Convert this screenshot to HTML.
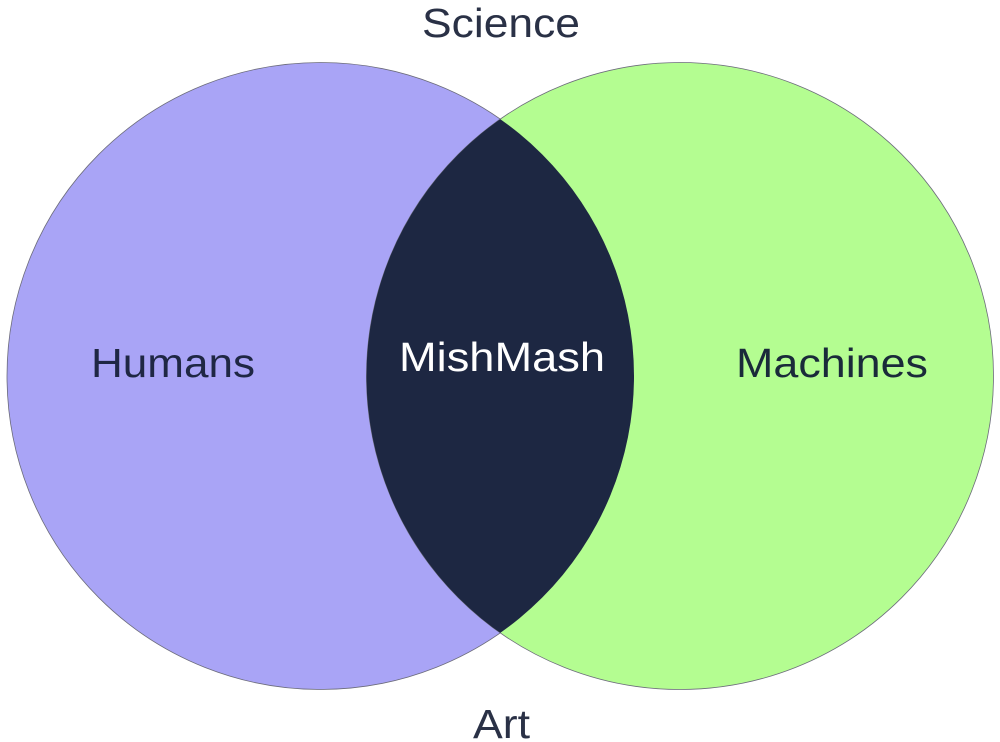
<!DOCTYPE html>
<html>
<head>
<meta charset="utf-8">
<style>
  html, body { margin: 0; padding: 0; background: #ffffff; }
  body { width: 1000px; height: 742px; overflow: hidden; }
  svg { display: block; }
  text { font-family: "Liberation Sans", "DejaVu Sans", sans-serif; }
</style>
</head>
<body>
<svg width="1000" height="742" viewBox="0 0 1000 742" xmlns="http://www.w3.org/2000/svg">
  <defs>
    <clipPath id="clipLeft">
      <circle cx="320.5" cy="376" r="313.5"/>
    </clipPath>
  </defs>
  <rect x="0" y="0" width="1000" height="742" fill="#ffffff"/>
  <!-- Left circle -->
  <circle cx="320.5" cy="376" r="313.5" fill="#a9a4f6" stroke="#6b6b7a" stroke-width="0.8"/>
  <!-- Right circle -->
  <circle cx="680" cy="376" r="313.5" fill="#b4fd91" stroke="#6b6b7a" stroke-width="0.8"/>
  <!-- Intersection -->
  <circle cx="680" cy="376" r="313.5" fill="#1d2742" clip-path="url(#clipLeft)"/>

  <!-- Labels -->
  <text x="422" y="37" font-size="41" fill="#2a3146" textLength="158" lengthAdjust="spacingAndGlyphs">Science</text>
  <text x="91" y="377" font-size="41" fill="#1f2744" textLength="164" lengthAdjust="spacingAndGlyphs">Humans</text>
  <text x="399" y="371" font-size="41" fill="#ffffff" textLength="206" lengthAdjust="spacingAndGlyphs">MishMash</text>
  <text x="736" y="377" font-size="41" fill="#1a2a3a" textLength="192" lengthAdjust="spacingAndGlyphs">Machines</text>
  <text x="473" y="738" font-size="41" fill="#2a3146" textLength="57" lengthAdjust="spacingAndGlyphs">Art</text>
</svg>
</body>
</html>
